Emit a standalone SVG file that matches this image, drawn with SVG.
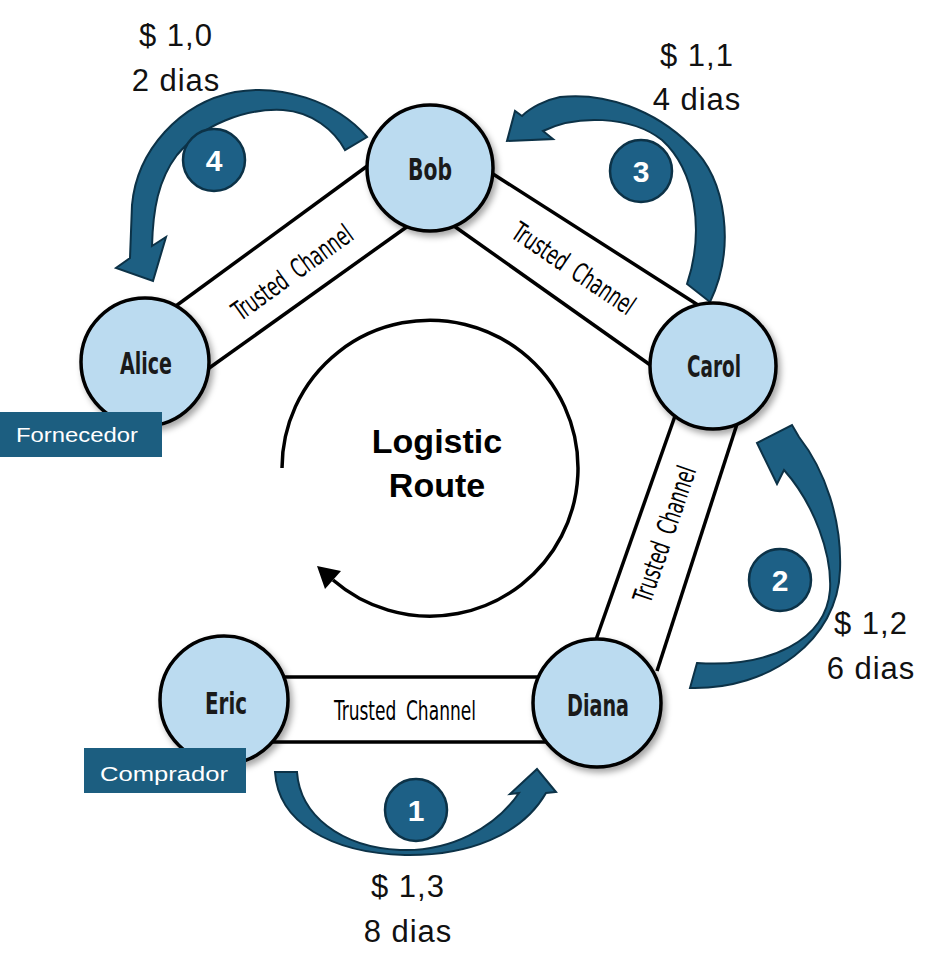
<svg xmlns="http://www.w3.org/2000/svg" width="944" height="978" viewBox="0 0 944 978">
<defs>
<filter id="sh" x="-20%" y="-20%" width="150%" height="150%">
<feDropShadow dx="3" dy="4" stdDeviation="3" flood-color="#000" flood-opacity="0.35"/>
</filter>
</defs>
<style>
.band{stroke:#000;stroke-width:3.5;fill:none;stroke-linecap:butt}
.tc{font-family:"DejaVu Sans Condensed","DejaVu Sans",sans-serif;font-stretch:condensed;font-size:27px;fill:#000;word-spacing:6px}
.node{fill:#bbdbf0;stroke:#000;stroke-width:3.5;filter:url(#sh)}
.nl{font-family:"DejaVu Sans Condensed","DejaVu Sans",sans-serif;font-stretch:condensed;font-weight:bold;font-size:30px;fill:#1a1a1a;text-anchor:middle}
.arr{fill:#1d5f82;stroke:#0c3247;stroke-width:2;stroke-linejoin:miter}
.badge{fill:#1d6086;stroke:#0c3247;stroke-width:2.5}
.bn{font-family:"Liberation Sans",Arial,sans-serif;font-weight:bold;font-size:30px;fill:#fff;text-anchor:middle}
.cost{font-family:"Liberation Sans",Arial,sans-serif;font-size:31px;fill:#111;text-anchor:middle;letter-spacing:1px}
.box{fill:#1c5e80}
.bt{font-family:"Liberation Sans",Arial,sans-serif;font-size:21px;fill:#fff}
.route{font-family:"Liberation Sans",Arial,sans-serif;font-weight:bold;font-size:34px;fill:#000;text-anchor:middle}
</style>
<rect width="944" height="978" fill="#fff"/>

<g id="connectors">
  <g id="channel-alice-bob">
    <line class="band" x1="169" y1="311" x2="370" y2="164"/>
    <line class="band" x1="205" y1="371" x2="408" y2="226"/>
    <text class="tc" transform="translate(292,272) rotate(-36)" x="0" y="10" text-anchor="middle" textLength="142" lengthAdjust="spacingAndGlyphs">Trusted Channel</text>
  </g>
  <g id="channel-bob-carol">
    <line class="band" x1="479" y1="165" x2="698" y2="305"/>
    <line class="band" x1="454" y1="226" x2="663" y2="374"/>
    <text class="tc" transform="translate(574,268) rotate(34)" x="0" y="10" text-anchor="middle" textLength="142" lengthAdjust="spacingAndGlyphs">Trusted Channel</text>
  </g>
  <g id="channel-carol-diana">
    <line class="band" x1="675" y1="416" x2="592" y2="651"/>
    <line class="band" x1="738" y1="421" x2="657" y2="671"/>
    <text class="tc" transform="translate(664,534) rotate(-71)" x="0" y="10" text-anchor="middle" textLength="142" lengthAdjust="spacingAndGlyphs">Trusted Channel</text>
  </g>
  <g id="channel-eric-diana">
    <line class="band" x1="270" y1="677" x2="550" y2="677"/>
    <line class="band" x1="270" y1="742" x2="550" y2="742"/>
    <text class="tc" x="405" y="720" text-anchor="middle" textLength="142" lengthAdjust="spacingAndGlyphs">Trusted Channel</text>
  </g>
  <g id="route-cycle">
    <path d="M282,468 A148,148 0 1 1 333,580" fill="none" stroke="#000" stroke-width="3.5"/>
    <polygon points="317,566 341,571 325,589" fill="#000"/>
  </g>
  <g id="arrow-1">
    <path class="arr" d="M275,772 L297,772 C300,815 340,847 400,850 C450,852 495,828 519,793 L510,794 L537,769 L556,792 L546,793 C522,835 468,856 405,855 C330,853 278,822 275,772 Z"/>
  </g>
  <g id="arrow-2">
    <path class="arr" d="M690,688 C770,690 838,640 840,570 C842,520 825,470 799,437 L792,425 L757,443 L777,484 L784,470 C815,505 832,555 830,590 C826,640 770,668 697,663 Z"/>
  </g>
  <g id="arrow-3">
    <path class="arr" d="M710,302 C735,250 728,180 690,145 C655,110 605,92 560,97 C545,100 530,108 522,116 L515,111 L507,141 L553,139 L543,131 C575,115 630,115 662,140 C695,170 705,230 687,284 Z"/>
  </g>
  <g id="arrow-4">
    <path class="arr" d="M367,137 C335,100 280,84 235,92 C180,103 137,150 132,205 L130,258 L116,268 L153,281 L166,237 L152,246 C153,210 158,180 177,155 C202,125 245,108 283,110 C312,112 334,130 345,150 Z"/>
  </g>
</g>

<g id="badge-1"><circle class="badge" cx="416" cy="810" r="31"/><text class="bn" x="416" y="821">1</text></g>
<g id="badge-2"><circle class="badge" cx="780" cy="580" r="31"/><text class="bn" x="780" y="591">2</text></g>
<g id="badge-3"><circle class="badge" cx="641" cy="171" r="31"/><text class="bn" x="641" y="182">3</text></g>
<g id="badge-4"><circle class="badge" cx="214" cy="160" r="31"/><text class="bn" x="214" y="171">4</text></g>

<g id="node-bob"><circle class="node" cx="430" cy="168" r="63"/><text class="nl" x="430" y="180" textLength="44" lengthAdjust="spacingAndGlyphs">Bob</text></g>
<g id="node-alice"><circle class="node" cx="145" cy="362" r="64"/><text class="nl" x="146" y="374" textLength="52" lengthAdjust="spacingAndGlyphs">Alice</text></g>
<g id="node-carol"><circle class="node" cx="713" cy="366" r="63"/><text class="nl" x="714" y="377" textLength="54" lengthAdjust="spacingAndGlyphs">Carol</text></g>
<g id="node-diana"><circle class="node" cx="597" cy="703" r="64"/><text class="nl" x="598" y="716" textLength="62" lengthAdjust="spacingAndGlyphs">Diana</text></g>
<g id="node-eric"><circle class="node" cx="224" cy="700" r="64"/><text class="nl" x="226" y="714" textLength="42" lengthAdjust="spacingAndGlyphs">Eric</text></g>

<g id="label-fornecedor"><rect class="box" x="0" y="412" width="162" height="45"/><text class="bt" x="16" y="442" textLength="122" lengthAdjust="spacingAndGlyphs">Fornecedor</text></g>
<g id="label-comprador"><rect class="box" x="84" y="748" width="162" height="45"/><text class="bt" x="100" y="781" textLength="128" lengthAdjust="spacingAndGlyphs">Comprador</text></g>

<g id="center-label">
  <text class="route" x="437" y="453">Logistic</text>
  <text class="route" x="437" y="497">Route</text>
</g>

<g id="costs">
  <text class="cost" x="176" y="46">$ 1,0</text>
  <text class="cost" x="176" y="91">2 dias</text>
  <text class="cost" x="697" y="66">$ 1,1</text>
  <text class="cost" x="697" y="110">4 dias</text>
  <text class="cost" x="871" y="634">$ 1,2</text>
  <text class="cost" x="871" y="679">6 dias</text>
  <text class="cost" x="408" y="897">$ 1,3</text>
  <text class="cost" x="408" y="942">8 dias</text>
</g>
</svg>
